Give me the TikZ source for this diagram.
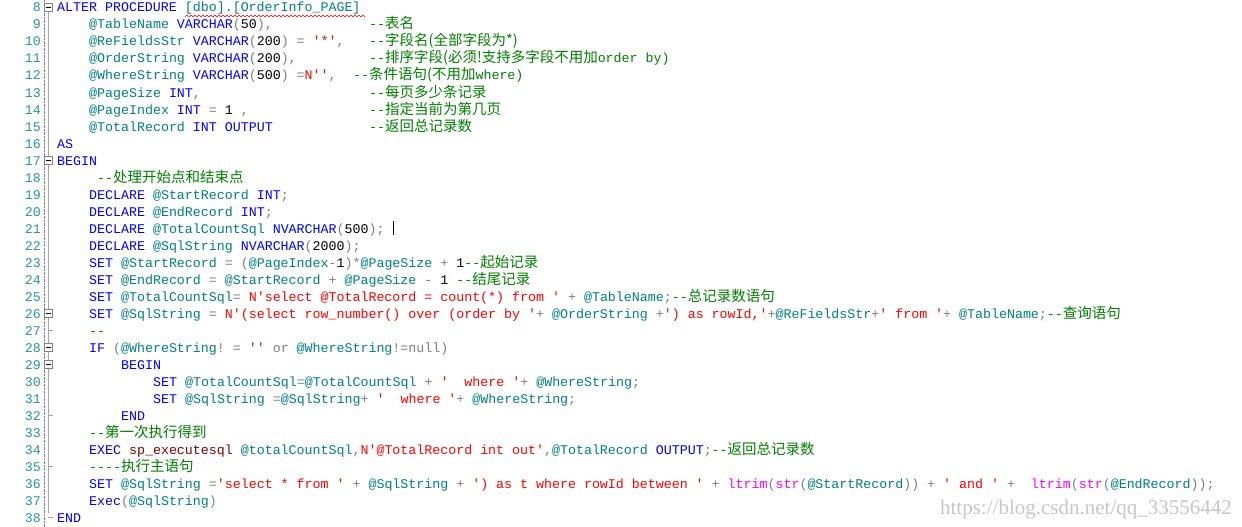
\documentclass[tikz,border=0pt]{standalone}
\usepackage{fontspec}
\setmonofont{Liberation Mono}
\newfontfamily\cjk{Noto Sans CJK SC}
\newfontfamily\wm{Liberation Serif}
\definecolor{kw}{RGB}{0,0,255}
\definecolor{var}{RGB}{0,128,128}
\definecolor{str}{RGB}{255,0,0}
\definecolor{cmt}{RGB}{0,128,0}
\definecolor{fn}{RGB}{255,0,255}
\definecolor{op}{RGB}{128,128,128}
\definecolor{sysp}{RGB}{128,0,0}
\definecolor{lnum}{RGB}{43,145,175}
\newcommand\K[1]{\textcolor{kw}{#1}}
\newcommand\V[1]{\textcolor{var}{#1}}
\newcommand\Sx[1]{\textcolor{str}{#1}}
\newcommand\G[1]{\textcolor{op}{#1}}
\newcommand\Fx[1]{\textcolor{fn}{#1}}
\newcommand\Z[1]{\textcolor{cmt}{#1}}
\newcommand\Zc[1]{\textcolor{cmt}{{\cjk\fontsize{14.5}{14.5}\selectfont #1}}}
\begin{document}
\begin{tikzpicture}[x=1pt,y=-1pt,
  code/.style={anchor=base west,inner sep=0pt,font=\ttfamily\fontsize{13.3}{13.3}\selectfont},
  num/.style={anchor=base east,inner sep=0pt,text=lnum,font=\ttfamily\fontsize{13.3}{13.3}\selectfont},
  fold/.style={draw=op,fill=white,minimum size=8pt,inner sep=0pt}]
\useasboundingbox (0,0) rectangle (1242,527);
\fill[white] (0,0) rectangle (1242,527);
\draw[op,densely dotted] (44,0) -- (44,527);
\draw[op!70] (48,12) -- (48,513);
\foreach \i in {8,...,38}{
  \node[num] (n\i) at (41,{12+17*(\i-8)}) {\i};
}
\foreach \i in {27,32,35,38}{
  \draw[op!70] (48,{7+17*(\i-8)}) -- (53,{7+17*(\i-8)});
}
\foreach \i in {8,17,26,28,29}{
  \node[fold] (f\i) at (48,{7+17*(\i-8)}) {};
  \draw[black] (45.5,{7+17*(\i-8)}) -- (50.5,{7+17*(\i-8)});
}
\newcommand\Lc[3]{\node[code] (l#1) at ({57+8*#2},{12+17*(#1-8)}) {#3};}
\newcommand\Cm[3]{\node[code] (c#1) at ({57+8*#2},{12+17*(#1-8)}) {#3};}
\Lc{8}{0}{\K{ALTER PROCEDURE} \V{[dbo].[OrderInfo\_PAGE]}}
\foreach \k in {0,...,44}{\draw[red,line width=0.6pt] ({185+4*\k},17) -- ({187+4*\k},15) -- ({189+4*\k},17);}
\Lc{9}{4}{\V{@TableName} \K{VARCHAR}\G{(}50\G{),}}
\Cm{9}{39}{\Z{--}\Zc{表名}}
\Lc{10}{4}{\V{@ReFieldsStr} \K{VARCHAR}\G{(}200\G{)} \G{=} \Sx{'*'}\G{,}}
\Cm{10}{39}{\Z{--}\Zc{字段名(全部字段为*)}}
\Lc{11}{4}{\V{@OrderString} \K{VARCHAR}\G{(}200\G{),}}
\Cm{11}{39}{\Z{--}\Zc{排序字段(必须!支持多字段不用加}\Z{order by)}}
\Lc{12}{4}{\V{@WhereString} \K{VARCHAR}\G{(}500\G{)} \G{=}\Sx{N''}\G{,}}
\Cm{12}{37}{\Z{--}\Zc{条件语句(不用加}\Z{where)}}
\Lc{13}{4}{\V{@PageSize} \K{INT}\G{,}}
\Cm{13}{39}{\Z{--}\Zc{每页多少条记录}}
\Lc{14}{4}{\V{@PageIndex} \K{INT} \G{=} 1 \G{,}}
\Cm{14}{39}{\Z{--}\Zc{指定当前为第几页}}
\Lc{15}{4}{\V{@TotalRecord} \K{INT OUTPUT}}
\Cm{15}{39}{\Z{--}\Zc{返回总记录数}}
\Lc{16}{0}{\K{AS}}
\Lc{17}{0}{\K{BEGIN}}
\Lc{18}{5}{\Z{--}\Zc{处理开始点和结束点}}
\Lc{19}{4}{\K{DECLARE} \V{@StartRecord} \K{INT}\G{;}}
\Lc{20}{4}{\K{DECLARE} \V{@EndRecord} \K{INT}\G{;}}
\Lc{21}{4}{\K{DECLARE} \V{@TotalCountSql} \K{NVARCHAR}\G{(}500\G{);}}
\draw[black] (393,221) -- (393,235);
\Lc{22}{4}{\K{DECLARE} \V{@SqlString} \K{NVARCHAR}\G{(}2000\G{);}}
\Lc{23}{4}{\K{SET} \V{@StartRecord} \G{= (}\V{@PageIndex}\G{-}1\G{)*}\V{@PageSize} \G{+} 1\Z{--}\Zc{起始记录}}
\Lc{24}{4}{\K{SET} \V{@EndRecord} \G{=} \V{@StartRecord} \G{+} \V{@PageSize} \G{-} 1 \Z{--}\Zc{结尾记录}}
\Lc{25}{4}{\K{SET} \V{@TotalCountSql}\G{=} \Sx{N'select @TotalRecord = count(*) from '} \G{+} \V{@TableName}\G{;}\Z{--}\Zc{总记录数语句}}
\Lc{26}{4}{\K{SET} \V{@SqlString} \G{=} \Sx{N'(select row\_number() over (order by '}\G{+} \V{@OrderString} \G{+}\Sx{') as rowId,'}\G{+}\V{@ReFieldsStr}\G{+}\Sx{' from '}\G{+} \V{@TableName}\G{;}\Z{--}\Zc{查询语句}}
\Lc{27}{4}{\Z{--}}
\Lc{28}{4}{\K{IF} \G{(}\V{@WhereString}\G{! =} \Sx{''} \G{or} \V{@WhereString}\G{!=null)}}
\Lc{29}{8}{\K{BEGIN}}
\Lc{30}{12}{\K{SET} \V{@TotalCountSql}\G{=}\V{@TotalCountSql} \G{+} \Sx{'~ where '}\G{+} \V{@WhereString}\G{;}}
\Lc{31}{12}{\K{SET} \V{@SqlString} \G{=}\V{@SqlString}\G{+} \Sx{'~ where '}\G{+} \V{@WhereString}\G{;}}
\Lc{32}{8}{\K{END}}
\Lc{33}{4}{\Z{--}\Zc{第一次执行得到}}
\Lc{34}{4}{\K{EXEC} \textcolor{sysp}{sp\_executesql} \V{@totalCountSql}\G{,}\Sx{N'@TotalRecord int out'}\G{,}\V{@TotalRecord} \K{OUTPUT}\G{;}\Z{--}\Zc{返回总记录数}}
\Lc{35}{4}{\Z{----}\Zc{执行主语句}}
\Lc{36}{4}{\K{SET} \V{@SqlString} \G{=}\Sx{'select * from '} \G{+} \V{@SqlString} \G{+} \Sx{') as t where rowId between '} \G{+} \Fx{ltrim}\G{(}\Fx{str}\G{(}\V{@StartRecord}\G{))} \G{+} \Sx{' and '} \G{+}~ \Fx{ltrim}\G{(}\Fx{str}\G{(}\V{@EndRecord}\G{));}}
\Lc{37}{4}{\K{Exec}\G{(}\V{@SqlString}\G{)}}
\Lc{38}{0}{\K{END}}
\node[anchor=base east,inner sep=0pt,text=black!22,font=\wm\fontsize{21}{21}\selectfont] (wm) at (1232,514) {https://blog.csdn.net/qq\_33556442};
\end{tikzpicture}
\end{document}
